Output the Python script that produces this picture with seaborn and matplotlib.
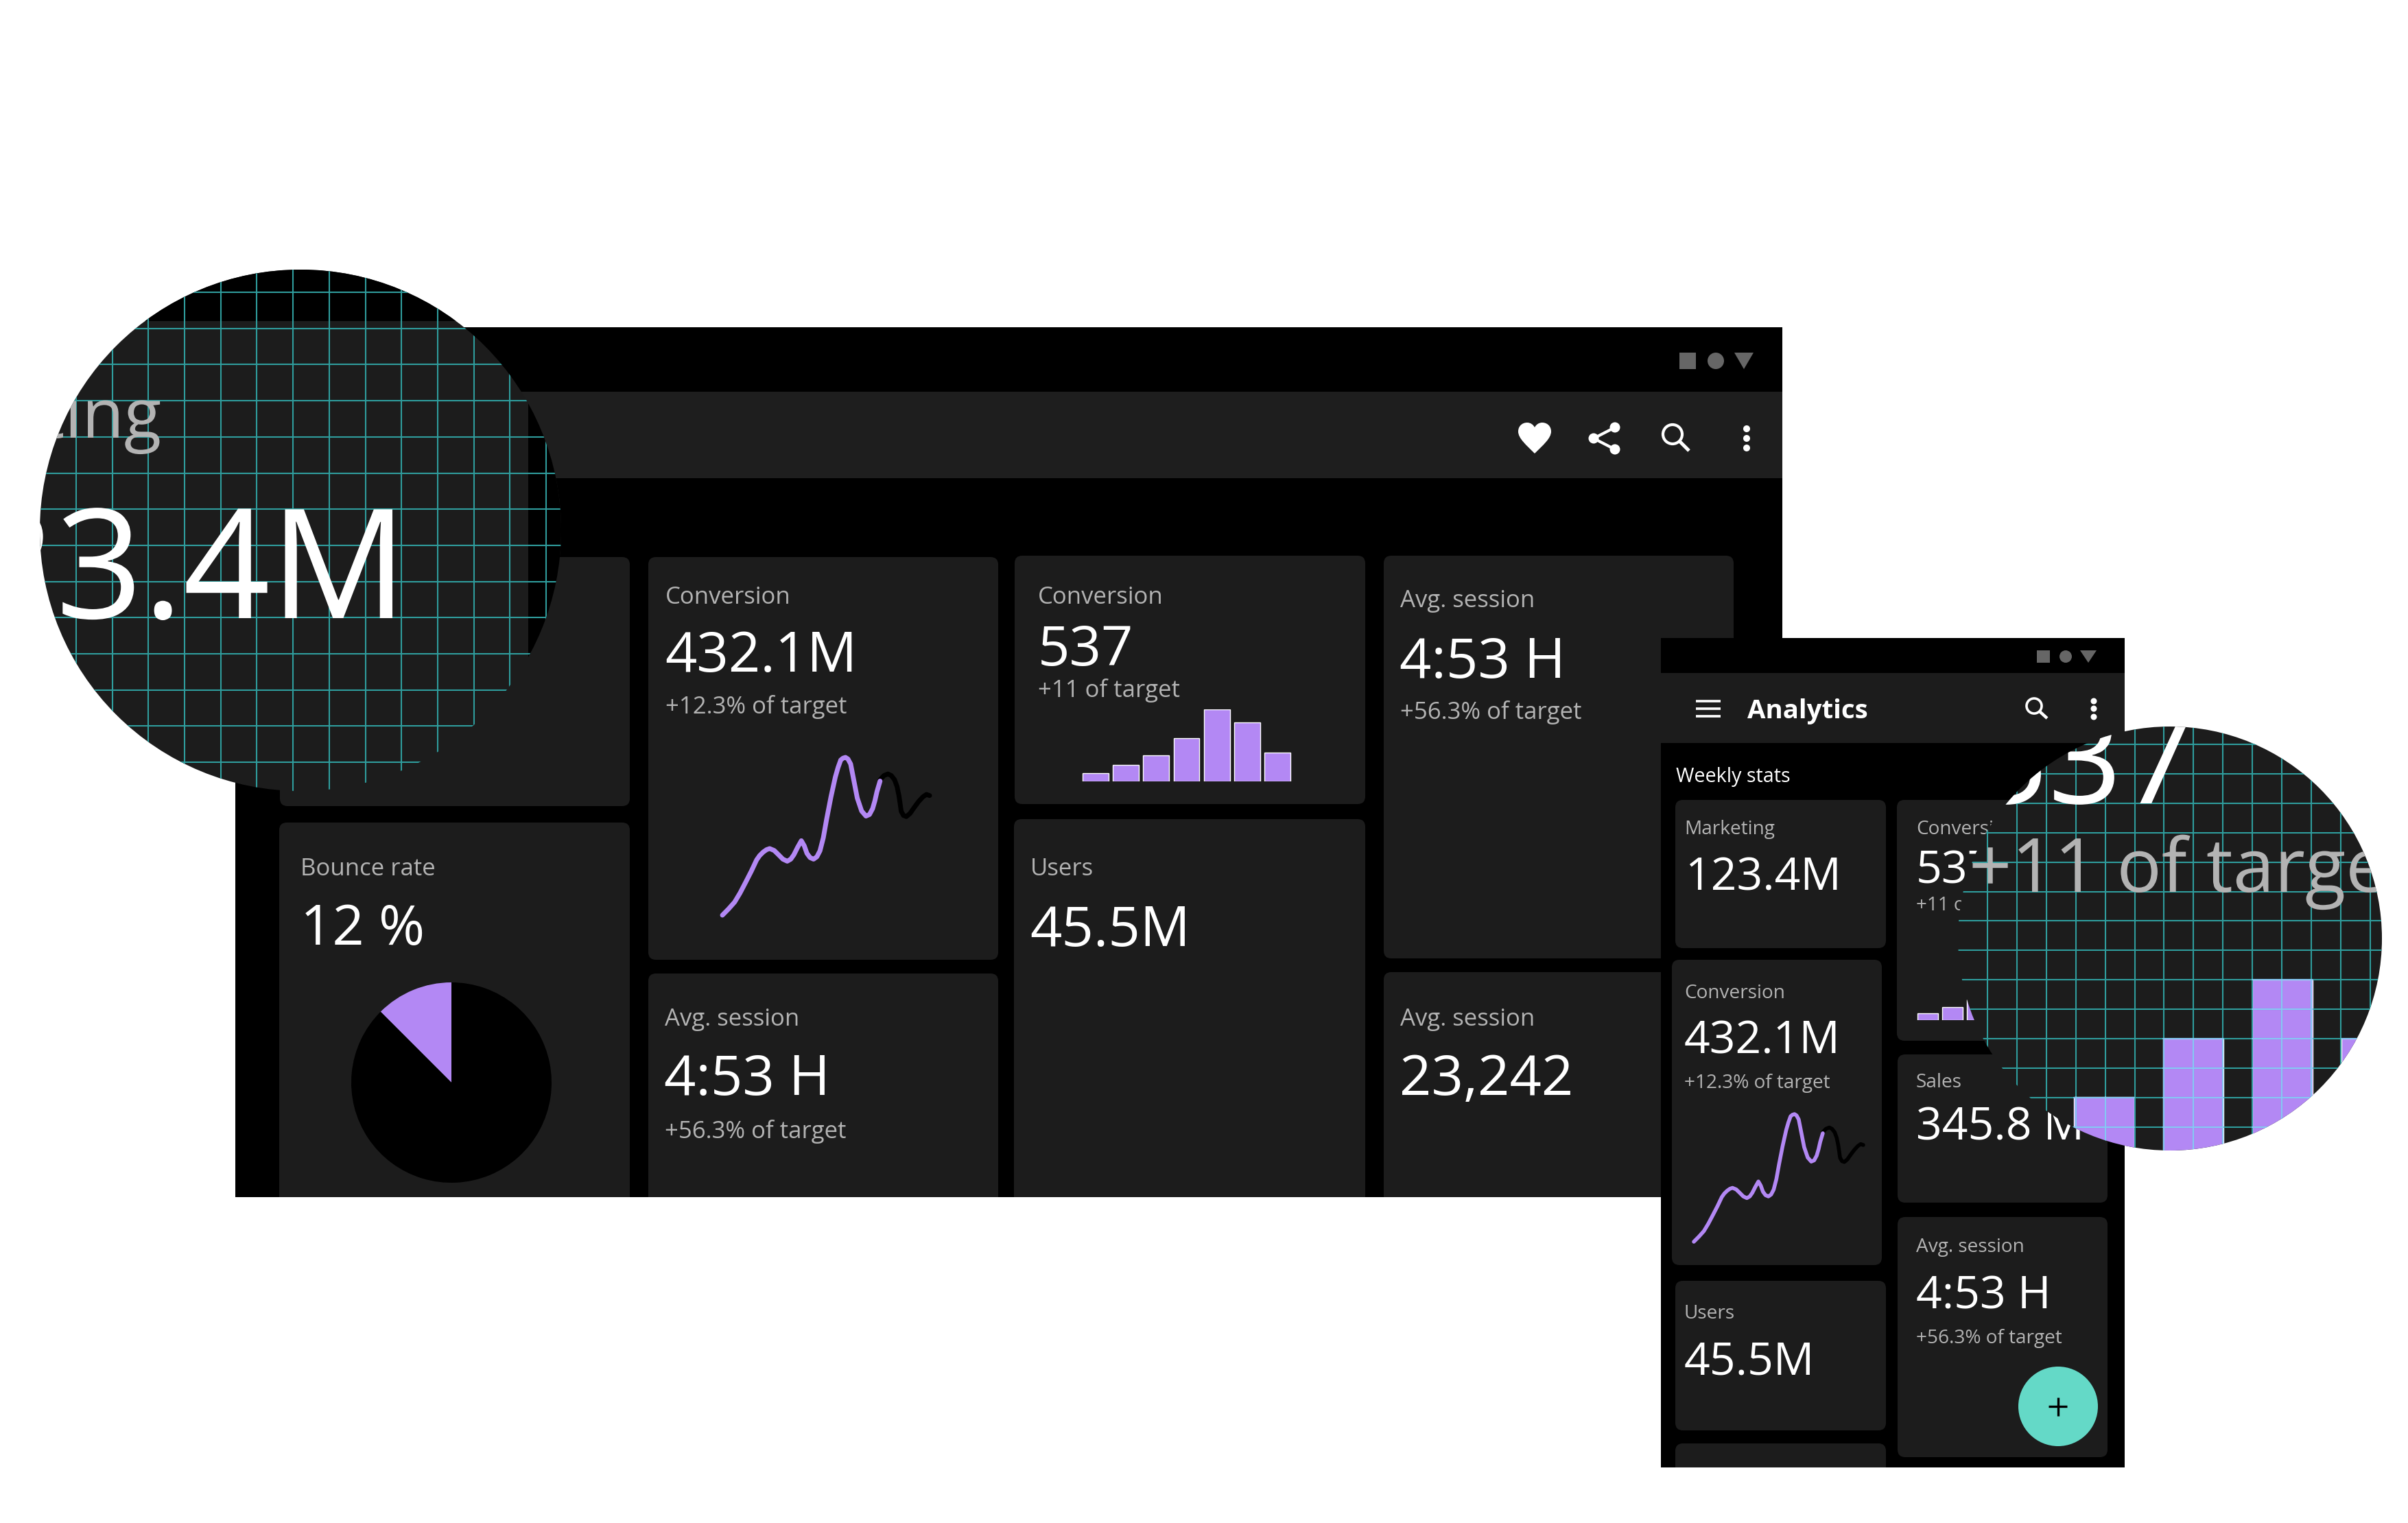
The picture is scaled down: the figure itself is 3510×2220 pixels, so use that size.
import matplotlib
matplotlib.use('Agg')
import matplotlib.patheffects as pe
import matplotlib.pyplot as plt
import numpy as np
import seaborn as sns
from matplotlib.patches import Circle, FancyBboxPatch, PathPatch, Polygon, Rectangle
from matplotlib.path import Path

# Values
bar_heights = [12, 24, 38, 63, 105, 86, 42]
bar_days = ['a', 'b', 'c', 'd', 'e', 'f', 'g']
zoom_bar_heights = [81, 166, 252, 166]
zoom_bar_days = ['c', 'd', 'e', 'f']
pie_values = [12.5, 87.5]

line_x = [0, 3, 5.9, 8.5, 11.2, 14, 16.5, 18, 19.7, 21.3, 22.8, 25, 27.1, 29.2, 31.3, 33, 34.5, 36.3, 38.1, 39.5,
          40.8, 42.3, 44, 45.6, 47.1, 48.7, 50.3, 52.4, 54.5, 55.8, 57.1, 58.2, 59.4, 60.6, 61.9, 63.5, 65.1,
          67.2, 69.3, 71, 72.5, 73.6, 74.6, 76.1]
line_y = [0, 4, 8.3, 14, 20.8, 28, 35, 37.8, 40, 41.5, 42.2, 41, 38.3, 35.5, 34.2, 35.5, 38.3, 43, 47.2, 44,
          39.2, 36.5, 35.5, 37, 40.8, 49, 60.8, 75, 87.5, 93.5, 98.3, 99.5, 100, 99, 95.8, 85, 74.2,
          66, 62.8, 63.8, 67.5, 72.5, 78.3, 85]
tail_x = [76.1, 78, 79.9, 81.5, 83.1, 84.3, 85.2, 85.8, 86.3, 87.4, 88.8, 90.6, 92.6, 94.7, 96.8, 98.5, 100]
tail_y = [85.8, 88.5, 89.5, 88.5, 85.8, 81.5, 75.8, 70.5, 65.8, 63.2, 62.5, 64.5, 68.3, 72, 75, 76.5, 75.8]

# Colours
CARD = '#1c1c1c'
BAR = '#1e1e1e'
PURPLE = '#b388f4'
GREY = '#b3b3b3'
ICON = '#666666'
TEAL = '#2f9d9d'
CYAN = '#86c8f4'
MINT = '#64d9c7'

sns.set_theme(style='white')
plt.rcParams['font.family'] = ['Open Sans', 'DejaVu Sans']

W, H = 3510, 2220
fig = plt.figure(figsize=(W / 100, H / 100), dpi=100, facecolor='white')


def layer(z):
    ax = fig.add_axes([0, 0, 1, 1], zorder=z)
    ax.set_xlim(0, W)
    ax.set_ylim(H, 0)
    ax.axis('off')
    ax.set_autoscale_on(False)
    return ax


def inset(left, top, width, height, z):
    ax = fig.add_axes([left / W, 1 - (top + height) / H, width / W, height / H], zorder=z)
    ax.axis('off')
    ax.patch.set_alpha(0)
    return ax


def rect(ax, x0, y0, x1, y1, color, clip=None):
    p = Rectangle((x0, y0), x1 - x0, y1 - y0, fc=color, ec='none')
    ax.add_patch(p)
    if clip is not None:
        p.set_clip_path(clip)
    return p


def card(ax, x0, y0, x1, y1, clip=None):
    p = FancyBboxPatch((x0, y0), x1 - x0, y1 - y0, boxstyle='round,pad=0,rounding_size=11', fc=CARD, ec='none')
    ax.add_patch(p)
    if clip is not None:
        p.set_clip_path(clip)
    return p


def label(ax, x, y, s, size=25, color=GREY, **kw):
    return ax.text(x, y, s, fontsize=size, color=color, va='baseline', **kw)


def number(ax, x, y, s, size=58.5, **kw):
    return ax.text(x, y, s, fontsize=size, color='white', va='baseline', **kw)


def cut_by_lens(t, lens_patch):
    # agg ignores clip paths on plain text, a path effect sends it through draw_path
    t.set_path_effects([pe.Normal()])
    t.set_clip_on(True)
    t.set_clip_path(lens_patch)


def status_icons(ax, sq, circ, tri, y0, y1):
    rect(ax, sq[0], y0, sq[1], y1, ICON)
    ax.add_patch(Circle((circ, (y0 + y1) / 2), (y1 - y0) / 2, fc=ICON, ec='none'))
    ax.add_patch(Polygon([(tri[0], y0), (tri[1], y0), ((tri[0] + tri[1]) / 2, y1)], fc=ICON, ec='none'))


def search_icon(ax, cx, cy, r, x1, y1, lw):
    ax.add_patch(Circle((cx, cy), r, fc='none', ec='white', lw=lw))
    ax.plot([cx + r * 0.7, x1], [cy + r * 0.7, y1], color='white', lw=lw + 0.6, solid_capstyle='butt')


def draw_line(ax, width):
    sns.lineplot(x=line_x, y=line_y, ax=ax, color=PURPLE, lw=width, sort=False, estimator=None, errorbar=None)
    sns.lineplot(x=tail_x, y=tail_y, ax=ax, color='black', lw=width, sort=False, estimator=None, errorbar=None)
    ax.lines[0].set_zorder(3)
    for ln in ax.lines:
        ln.set_clip_on(False)
        ln.set_solid_joinstyle('round')
    ax.set_xlim(0, 100)
    ax.set_ylim(0, 100)
    ax.axis('off')


def draw_bars(ax, days, heights, top, width=0.86):
    sns.barplot(x=days, y=heights, ax=ax, color=PURPLE, width=width, saturation=1)
    ax.set_xlim(-0.5, len(days) - 0.5)
    ax.set_ylim(0, top)
    ax.axis('off')


# --- desktop window ---
back = layer(0)
rect(back, 343, 477, 2598, 1745, 'black')
window_clip = Rectangle((343, 477), 2255, 1268, transform=back.transData)
rect(back, 343, 571, 2598, 697, BAR)
status_icons(back, (2448, 2472), 2501, (2528, 2556), 514, 538)

heart = [(0, 22), (-12, 10), (-24, 0), (-24, -10), (-24, -18), (-18, -23), (-11, -23), (-6, -23), (-2, -20), (0, -16),
         (2, -20), (6, -23), (11, -23), (18, -23), (24, -18), (24, -10), (24, 0), (12, 10), (0, 22)]
heart = [(2237 + a, 639 + b) for a, b in heart]
back.add_patch(PathPatch(Path(heart, [Path.MOVETO] + [Path.CURVE4] * 18), fc='white', ec='none'))
for px, py in [(2354, 623), (2354, 655)]:
    back.plot([2323, px], [639, py], color='white', lw=3)
for px, py in [(2323, 639), (2354, 623), (2354, 655)]:
    back.add_patch(Circle((px, py), 7.5, fc='white', ec='none'))
search_icon(back, 2438, 633, 14, 2462, 657, 3)
for py in [625, 639, 653]:
    back.add_patch(Circle((2546, py), 5, fc='white', ec='none'))

card(back, 408, 812, 918, 1175)
card(back, 407, 1199, 918, 1790, window_clip)
card(back, 945, 812, 1455, 1399)
card(back, 945, 1419, 1455, 1790, window_clip)
card(back, 1479, 810, 1990, 1172)
card(back, 1478, 1194, 1990, 1790, window_clip)
card(back, 2017, 810, 2527, 1397)
card(back, 2017, 1417, 2527, 1790, window_clip)

label(back, 438, 1276, 'Bounce rate')
number(back, 438, 1377, '12 %')
label(back, 970, 880, 'Conversion')
number(back, 969, 979, '432.1M')
label(back, 970, 1040, '+12.3% of target')
label(back, 1513, 880, 'Conversion')
number(back, 1513, 970, '537')
label(back, 1513, 1016, '+11 of target')
label(back, 1502, 1276, 'Users')
number(back, 1501, 1379, '45.5M')
label(back, 2041, 885, 'Avg. session')
number(back, 2040, 988, '4:53 H')
label(back, 2041, 1048, '+56.3% of target')
label(back, 969, 1495, 'Avg. session')
number(back, 968, 1596, '4:53 H')
label(back, 969, 1659, '+56.3% of target')
label(back, 2041, 1495, 'Avg. session')
number(back, 2040, 1596, '23,242')

# desktop charts
draw_line(inset(1053, 1104, 302, 230, 1), 5)
draw_bars(inset(1575, 1034, 309, 105, 1), bar_days, bar_heights, 105)
pie_ax = inset(512, 1432, 292, 292, 1)
pie_ax.pie(pie_values, colors=[PURPLE, 'black'], startangle=90, radius=1, wedgeprops={'linewidth': 0})
pie_ax.set_xlim(-1, 1)
pie_ax.set_ylim(-1, 1)

# --- phone ---
phone = layer(2)
rect(phone, 2421, 930, 3097, 2139, 'black')
phone_clip = Rectangle((2421, 930), 676, 1209, transform=phone.transData)
rect(phone, 2421, 981, 3097, 1083, CARD)
status_icons(phone, (2969, 2988), 3011, (3032, 3056), 948, 966)
for py in [1022, 1033, 1044]:
    phone.plot([2472, 2508], [py, py], color='white', lw=2.6, solid_capstyle='butt')
phone.text(2547, 1047, 'Analytics', fontsize=27.6, color='white', fontweight='bold', va='baseline')
search_icon(phone, 2965, 1029, 11, 2984, 1047, 2.6)
for py in [1022, 1033, 1045]:
    phone.add_patch(Circle((3052, py), 4.5, fc='white', ec='none'))
phone.text(2443, 1140, 'Weekly stats', fontsize=20.6, color='white', va='baseline')

card(phone, 2442, 1166, 2749, 1382)
card(phone, 2765, 1166, 3072, 1517)
card(phone, 2437, 1399, 2743, 1844)
card(phone, 2766, 1537, 3072, 1753)
card(phone, 2766, 1774, 3072, 2124)
card(phone, 2442, 1867, 2749, 2085)
card(phone, 2442, 2104, 2749, 2170, phone_clip)

label(phone, 2455, 1216, 'Marketing', 20.2)
number(phone, 2456, 1297, '123.4M', 47.5)
label(phone, 2793, 1216, 'Conversion', 20.2)
number(phone, 2793, 1287, '537', 47.5)
label(phone, 2793, 1327, '+11 of target', 20)
label(phone, 2455, 1455, 'Conversion', 20.2)
number(phone, 2455, 1536, '432.1M', 47.5)
label(phone, 2455, 1586, '+12.3% of target', 20.2)
label(phone, 2793, 1585, 'Sales', 20.2)
number(phone, 2793, 1662, '345.8 M', 47.5)
label(phone, 2793, 1825, 'Avg. session', 20.2)
number(phone, 2793, 1908, '4:53 H', 47.5)
label(phone, 2793, 1958, '+56.3% of target', 20.2)
label(phone, 2455, 1922, 'Users', 20.2)
number(phone, 2455, 2004, '45.5M', 47.5)

phone.add_patch(Circle((3000, 2050), 58, fc=MINT, ec='none'))
phone.plot([2986.5, 3013.5], [2050, 2050], color='black', lw=2.4, solid_capstyle='butt')
phone.plot([3000, 3000], [2036.5, 2063.5], color='black', lw=2.4, solid_capstyle='butt')

draw_line(inset(2469, 1624, 247, 186, 3), 4)
draw_bars(inset(2792, 1403, 252, 84, 3), bar_days, bar_heights, 105)

# --- magnifiers ---
lens = layer(4)
lens_top = layer(7)

left_lens = Circle((438, 773), 380, fc=CARD, ec='none')
lens.add_patch(left_lens)
rect(lens, 40, 380, 830, 468, 'black', left_lens)
rect(lens, 770, 380, 830, 1180, 'black', left_lens)

right_lens = Circle((3163, 1368), 309, fc=CARD, ec='none')
lens.add_patch(right_lens)

# grid
for x in np.arange(111, 800, 52.7):
    lens_top.plot([x, x], [380, 1170], color=TEAL, lw=1.5)[0].set_clip_path(left_lens)
for y in np.arange(426, 1120, 52.7):
    lens_top.plot([40, 830], [y, y], color=TEAL, lw=1.5)[0].set_clip_path(left_lens)
right_xs = np.arange(2897, 3460, 42.9)
right_ys = np.arange(1085, 1650, 42.9)
for x in right_xs:
    lens_top.plot([x, x], [1050, 1690], color=TEAL, lw=1.5)[0].set_clip_path(right_lens)
for y in right_ys:
    lens_top.plot([2850, 3480], [y, y], color=TEAL, lw=1.5)[0].set_clip_path(right_lens)

# zoomed bars sit between the lens fill and the grid
zoom_ax = inset(3002, 1348, 520, 332, 5)
draw_bars(zoom_ax, zoom_bar_days, zoom_bar_heights, 332, width=0.67)
for bar in zoom_ax.patches:
    bar.set_clip_path(right_lens)

# grid lines turn light where they cross a bar
fig.canvas.draw()
renderer = fig.canvas.get_renderer()
for bar in zoom_ax.patches:
    box = lens_top.transData.inverted().transform_bbox(bar.get_window_extent(renderer))
    x0, x1 = sorted([box.x0, box.x1])
    y0, y1 = sorted([box.y0, box.y1])
    for x in right_xs:
        if x0 <= x <= x1:
            lens_top.plot([x, x], [y0, y1], color=CYAN, lw=1.5)[0].set_clip_path(right_lens)
    for y in right_ys:
        if y0 <= y <= y1:
            lens_top.plot([x0, x1], [y, y], color=CYAN, lw=1.5)[0].set_clip_path(right_lens)

# zoomed text on top of the grid, cut by the lens edge
cut_by_lens(label(lens_top, 235, 638, 'ting', 72, ha='right'), left_lens)
cut_by_lens(number(lens_top, 594, 901, '23.4M', 160, ha='right'), left_lens)
cut_by_lens(number(lens_top, 3200, 1171, '537', 135, ha='right'), right_lens)
cut_by_lens(label(lens_top, 2870, 1300, '+11 of targe', 78.5), right_lens)

fig.savefig('out.png', dpi=100, facecolor='white')
